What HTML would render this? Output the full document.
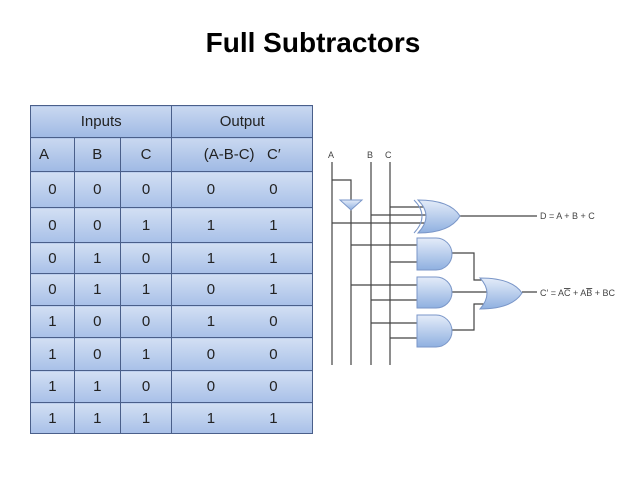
<!DOCTYPE html>
<html><head><style>
body{margin:0;width:638px;height:479px;background:#fff;position:relative;overflow:hidden;font-family:"Liberation Sans",sans-serif}
.t{position:absolute;left:0;width:626px;top:27px;text-align:center;font-weight:bold;font-size:28px;color:#000}
table{position:absolute;left:30px;top:105px;border-collapse:collapse;width:283px;height:328px}
td{border:1px solid #4a5f8a;text-align:center;font-size:15px;color:#222;background:linear-gradient(#d2dff3,#a8c0e8);padding:0}
.h td{background:linear-gradient(#c9d8f0,#9fb9e4)}
</style></head><body>
<div class="t">Full Subtractors</div>
<table>
<colgroup><col style="width:44px"><col style="width:46px"><col style="width:52px"><col style="width:141px"></colgroup>
<tr class="h" style="height:32px"><td colspan="3">Inputs</td><td>Output</td></tr>
<tr class="h" style="height:34px"><td style="text-align:left;padding-left:8px">A</td><td>B</td><td>C</td><td>(A-B-C)&nbsp;&nbsp; C′</td></tr>
<tr style="height:36px"><td>0</td><td>0</td><td>0</td><td>0&nbsp;&nbsp;&nbsp;&nbsp;&nbsp;&nbsp;&nbsp;&nbsp;&nbsp;&nbsp;&nbsp;&nbsp; 0</td></tr>
<tr style="height:35px"><td>0</td><td>0</td><td>1</td><td>1&nbsp;&nbsp;&nbsp;&nbsp;&nbsp;&nbsp;&nbsp;&nbsp;&nbsp;&nbsp;&nbsp;&nbsp; 1</td></tr>
<tr style="height:31px"><td>0</td><td>1</td><td>0</td><td>1&nbsp;&nbsp;&nbsp;&nbsp;&nbsp;&nbsp;&nbsp;&nbsp;&nbsp;&nbsp;&nbsp;&nbsp; 1</td></tr>
<tr style="height:32px"><td>0</td><td>1</td><td>1</td><td>0&nbsp;&nbsp;&nbsp;&nbsp;&nbsp;&nbsp;&nbsp;&nbsp;&nbsp;&nbsp;&nbsp;&nbsp; 1</td></tr>
<tr style="height:32px"><td>1</td><td>0</td><td>0</td><td>1&nbsp;&nbsp;&nbsp;&nbsp;&nbsp;&nbsp;&nbsp;&nbsp;&nbsp;&nbsp;&nbsp;&nbsp; 0</td></tr>
<tr style="height:33px"><td>1</td><td>0</td><td>1</td><td>0&nbsp;&nbsp;&nbsp;&nbsp;&nbsp;&nbsp;&nbsp;&nbsp;&nbsp;&nbsp;&nbsp;&nbsp; 0</td></tr>
<tr style="height:32px"><td>1</td><td>1</td><td>0</td><td>0&nbsp;&nbsp;&nbsp;&nbsp;&nbsp;&nbsp;&nbsp;&nbsp;&nbsp;&nbsp;&nbsp;&nbsp; 0</td></tr>
<tr style="height:31px"><td>1</td><td>1</td><td>1</td><td>1&nbsp;&nbsp;&nbsp;&nbsp;&nbsp;&nbsp;&nbsp;&nbsp;&nbsp;&nbsp;&nbsp;&nbsp; 1</td></tr>
</table>
<svg width="638" height="479" style="position:absolute;left:0;top:0">
<defs><linearGradient id="g" x1="0" y1="0" x2="0" y2="1"><stop offset="0" stop-color="#e4ecf9"/><stop offset="1" stop-color="#8fb0e0"/></linearGradient></defs>
<g stroke="#444" stroke-width="1.2" fill="none">
<path d="M332 162V365M351 210V365M371 162V365M390 162V365"/>
<path d="M332 180H351V200"/>
<path d="M390 207H425M371 215H428M332 223H425"/>
<path d="M460 216H537"/>
<path d="M351 245H417M390 262H417M351 285H417M371 300H417M371 323H417M390 338H417"/>
<path d="M452 253H474V280H486M452 292H490M452 330H474V304H486M522 292H537"/>
</g>
<g stroke="#7a96c8" stroke-width="1" fill="url(#g)">
<path d="M340 200H362L351 210Z"/>
<path d="M418 200Q450 200 460 216Q450 233 418 233Q434 216 418 200Z"/>
<path d="M414 200Q430 216 414 233" fill="none"/>
<path d="M417 238H436A16 16 0 0 1 436 270H417Z"/>
<path d="M417 277H436A16 15.5 0 0 1 436 308H417Z"/>
<path d="M417 315H436A16 16 0 0 1 436 347H417Z"/>
<path d="M480 278Q512 278 522 293Q512 309 480 309Q494 293 480 278Z"/>
</g>
<g font-size="9" fill="#444">
<text x="328" y="158">A</text><text x="367" y="158">B</text><text x="385" y="158">C</text>
<text x="540" y="219">D = A + B + C</text>
<text x="540" y="296">C′ = A<tspan text-decoration="overline">C</tspan> + A<tspan text-decoration="overline">B</tspan> + BC</text>
</g>
</svg>
</body></html>
